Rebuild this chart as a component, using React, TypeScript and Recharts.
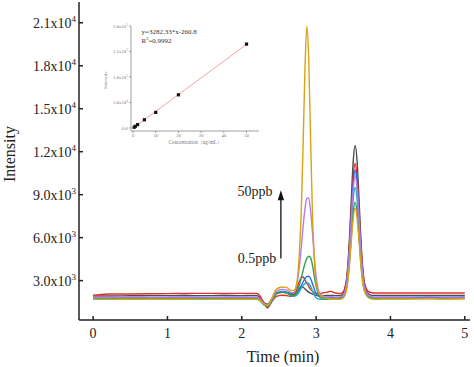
import React from "react";
import {
  LineChart,
  ComposedChart,
  Line,
  Scatter,
  XAxis,
  YAxis,
  ReferenceLine,
  ReferenceDot,
} from "recharts";

document.body.style.margin = "0";

// retention time (min)
const times = [
  0, 0.25, 0.5, 0.75, 1.0, 1.25, 1.5, 1.75, 2.0, 2.1,
  2.2, 2.25, 2.3, 2.35, 2.4, 2.45, 2.5, 2.55, 2.6, 2.65,
  2.7, 2.725, 2.75, 2.775, 2.8, 2.825, 2.85, 2.875, 2.9, 2.925,
  2.95, 2.975, 3.0, 3.05, 3.1, 3.15, 3.2, 3.25, 3.3,
  3.35, 3.4, 3.425, 3.45, 3.475, 3.5, 3.525, 3.55, 3.575, 3.6,
  3.625, 3.65, 3.7, 3.75, 3.8,
  4.0, 4.25, 4.5, 4.75, 5.0,
];

// chromatograms, 0.5ppb -> 50ppb
const dark = [
  1920, 1930, 1940, 1950, 1950, 1960, 1950, 1960, 1950, 1950,
  1950, 1800, 1450, 1350, 1700, 2100, 2200, 2220, 2200, 2100,
  2050, 2150, 2300, 2450, 2550, 2520, 2420, 2300, 2200, 2120,
  2050, 2000, 1980, 1960, 1950, 1960, 1970, 1950, 1950,
  2010, 2750, 3950, 6090, 8890, 11410, 12440, 11410, 8890, 6090,
  4000, 2800, 2100, 1970, 1960,
  1960, 1960, 1970, 1960, 1970,
];
const red = [
  1980, 2060, 2070, 2080, 2090, 2100, 2110, 2100, 2110, 2100,
  2100, 1900, 1400, 1100, 1500, 1850, 1950, 1980, 1960, 1900,
  1950, 2150, 2550, 2950, 3200, 3250, 3050, 2800, 2600, 2400,
  2250, 2150, 2100, 2100, 2150, 2200, 2250, 2150, 2100,
  2150, 2790, 3830, 5690, 8110, 10290, 11180, 10290, 8110, 5690,
  3850, 2850, 2250, 2150, 2130,
  2130, 2130, 2140, 2130, 2140,
];
const blue = [
  1780, 1790, 1800, 1800, 1800, 1810, 1800, 1810, 1800, 1800,
  1800, 1650, 1350, 1250, 1600, 2050, 2200, 2230, 2200, 2050,
  1950, 2000, 2150, 2400, 2650, 2900, 3150, 3280, 3300, 3150,
  2800, 2400, 2100, 1850, 1800, 1810, 1830, 1800, 1800,
  1850, 2480, 3500, 5320, 7690, 9830, 10700, 9830, 7690, 5320,
  3550, 2550, 1950, 1820, 1800,
  1800, 1800, 1810, 1800, 1810,
];
const cyan = [
  1730, 1740, 1750, 1750, 1750, 1760, 1750, 1750, 1760, 1750,
  1750, 1600, 1300, 1220, 1550, 2000, 2150, 2180, 2150, 2000,
  1900, 1950, 2050, 2250, 2450, 2650, 2800, 2850, 2800, 2600,
  2300, 2000, 1800, 1700, 1720, 1740, 1760, 1750, 1750,
  1800, 2340, 3230, 4810, 6880, 8740, 9500, 8740, 6880, 4810,
  3250, 2400, 1900, 1770, 1750,
  1750, 1760, 1760, 1750, 1760,
];
const green = [
  1700, 1710, 1720, 1720, 1720, 1730, 1720, 1720, 1730, 1720,
  1720, 1580, 1300, 1230, 1550, 2000, 2150, 2180, 2150, 2000,
  1950, 2050, 2300, 2700, 3200, 3700, 4200, 4550, 4700, 4600,
  4100, 3300, 2600, 1900, 1720, 1700, 1720, 1720, 1720,
  1760, 2230, 3010, 4390, 6190, 7820, 8480, 7820, 6190, 4390,
  3030, 2300, 1850, 1740, 1730,
  1740, 1740, 1750, 1740, 1750,
];
const purple = [
  1830, 1840, 1850, 1850, 1850, 1860, 1850, 1850, 1860, 1850,
  1850, 1700, 1400, 1300, 1650, 2150, 2350, 2380, 2350, 2200,
  2150, 2400, 3000, 4000, 5300, 6800, 8000, 8750, 8750, 7900,
  6400, 4700, 3300, 2100, 1900, 1860, 1870, 1850, 1850,
  1900, 2490, 3460, 5190, 7440, 9470, 10300, 9470, 7440, 5190,
  3500, 2550, 2000, 1870, 1850,
  1860, 1860, 1870, 1860, 1870,
];
const yellow = [
  1690, 1690, 1700, 1700, 1700, 1700, 1710, 1700, 1700, 1700,
  1700, 1600, 1350, 1280, 1700, 2300, 2500, 2550, 2530, 2350,
  2300, 2500, 3200, 5000, 7800, 12500, 17800, 20760, 18500, 13000,
  7800, 4500, 2800, 2000, 1800, 1750, 1720, 1700, 1700,
  1740, 2180, 2910, 4200, 5900, 7420, 8040, 7420, 5900, 4200,
  2930, 2250, 1820, 1720, 1710,
  1720, 1720, 1730, 1720, 1730,
];

const seriesList = [
  { key: "s05", values: dark, color: "#4d4d4d" },
  { key: "s1", values: red, color: "#e0302a" },
  { key: "s2", values: blue, color: "#2470e0" },
  { key: "s5", values: cyan, color: "#22a9c6" },
  { key: "s10", values: green, color: "#2ca152" },
  { key: "s20", values: purple, color: "#b37ce9" },
  { key: "s50", values: yellow, color: "#d8a315" },
];

const xTicks = [0, 1, 2, 3, 4, 5];
const yTicks = [3000, 6000, 9000, 12000, 15000, 18000, 21000];

// calibration inset
const conc = [0.5, 1, 2, 5, 10, 20, 50];
const peakArea = [1300, 3200, 6500, 16000, 30500, 65000, 164500];
const fitX = [0, 50];
const fitY = [-261, 163856];
const insetXTicks = [0, 10, 20, 30, 40, 50];
const insetYTicks = [0, 50000, 100000, 150000, 200000];

const rows = times.map((t, i) => {
  const r: any = { t };
  seriesList.forEach((s) => (r[s.key] = s.values[i]));
  return r;
});
const calPoints = conc.map((x, i) => ({ x, y: peakArea[i] }));
const fitPoints = fitX.map((x, i) => ({ x, y: fitY[i] }));

const serif = "'Liberation Serif', 'Times New Roman', serif";

const sciParts = (v: number) => {
  if (v === 0) return ["0.0", null];
  const e = Math.floor(Math.log10(v) + 1e-9);
  return [(v / Math.pow(10, e)).toFixed(1), e];
};

const MainYTick = ({ x, y, payload }: any) => {
  const [m, e] = sciParts(payload.value);
  return (
    <text x={x} y={y} dy={5} textAnchor="end" fontFamily={serif} fontSize={14} fill="#222">
      {m}x10
      <tspan dy={-6} fontSize={9}>{e}</tspan>
    </text>
  );
};

const InsetYTick = ({ x, y, payload }: any) => {
  const [m, e] = sciParts(payload.value);
  return (
    <text x={x} y={y} dy={1.6} textAnchor="end" fontFamily={serif} fontSize={4.6} fill="#777">
      {m}
      {e !== null && (
        <>
          x10<tspan dy={-1.8} fontSize={3}>{e}</tspan>
        </>
      )}
    </text>
  );
};

const ArrowHead = ({ cx, cy }: any) => (
  <path d={`M${cx},${cy} L${cx - 3.2},${cy + 10} L${cx + 3.2},${cy + 10} Z`} fill="#111" />
);

const TextMark = (label: string) => ({ cx, cy }: any) => (
  <text x={cx} y={cy} dy={5} textAnchor="middle" fontFamily={serif} fontSize={14} fill="#222">
    {label}
  </text>
);

const Square = ({ cx, cy }: any) => (
  <rect x={cx - 1.6} y={cy - 1.6} width={3.2} height={3.2} fill="#111" />
);

export default function App() {
  return (
    <div style={{ position: "relative", width: 474, height: 367, background: "#fff" }}>
      <LineChart width={474} height={367} data={rows} margin={{ top: 2, right: 4, left: 0, bottom: 0 }}>
        <XAxis
          dataKey="t"
          type="number"
          domain={[-0.19, 5.07]}
          ticks={xTicks}
          allowDataOverflow
          height={47}
          tickSize={-4}
          tickMargin={12}
          stroke="#222"
          strokeWidth={1.5}
          tick={{ fill: "#222", fontFamily: serif, fontSize: 14 }}
        />
        <XAxis xAxisId="top" orientation="top" type="number" domain={[-0.19, 5.07]} height={0} tick={false} tickLine={false} stroke="#222" strokeWidth={1.5} />
        <YAxis
          type="number"
          domain={[250, 22450]}
          ticks={yTicks}
          allowDataOverflow
          width={79}
          tickSize={-4}
          tickMargin={7}
          stroke="#222"
          strokeWidth={1.5}
          tick={<MainYTick />}
        />
        <YAxis yAxisId="right" orientation="right" domain={[250, 22450]} width={0} tick={false} tickLine={false} stroke="#222" strokeWidth={1.5} />
        {seriesList.map((s) => (
          <Line
            key={s.key}
            type="monotone"
            dataKey={s.key}
            stroke={s.color}
            strokeWidth={1.4}
            dot={false}
            isAnimationActive={false}
          />
        ))}
        <ReferenceLine
          segment={[
            { x: 2.526, y: 4550 },
            { x: 2.526, y: 8700 },
          ]}
          stroke="#111"
          strokeWidth={1.3}
        />
        <ReferenceDot x={2.526} y={9300} r={0} shape={ArrowHead} />
        <ReferenceDot x={2.176} y={9230} r={0} shape={TextMark("50ppb")} />
        <ReferenceDot x={2.203} y={4560} r={0} shape={TextMark("0.5ppb")} />
      </LineChart>

      {/* axis titles */}
      <svg width={474} height={367} style={{ position: "absolute", left: 0, top: 0, pointerEvents: "none" }}>
        <text x={15} y={154} transform="rotate(-90, 15, 154)" textAnchor="middle" fontFamily={serif} fontSize={16} fill="#222">
          Intensity
        </text>
        <text x={283} y={362} textAnchor="middle" fontFamily={serif} fontSize={16} fill="#222">
          Time (min)
        </text>
      </svg>

      {/* calibration inset */}
      <div style={{ position: "absolute", left: 100, top: 15, width: 160, height: 132 }}>
        <ComposedChart width={160} height={132} margin={{ top: 11, right: 1, left: 0, bottom: 0 }}>
          <XAxis
            dataKey="x"
            type="number"
            domain={[-0.9, 55.5]}
            ticks={insetXTicks}
            allowDataOverflow
            height={16}
            tickSize={2}
            tickMargin={1}
            stroke="#888"
            strokeWidth={0.8}
            tick={{ fill: "#777", fontFamily: serif, fontSize: 4.6 }}
          />
          <YAxis
            type="number"
            domain={[-6000, 200000]}
            ticks={insetYTicks}
            allowDataOverflow
            width={31}
            tickSize={2}
            tickMargin={1.5}
            stroke="#888"
            strokeWidth={0.8}
            tick={<InsetYTick />}
          />
          <Line
            data={fitPoints}
            dataKey="y"
            type="linear"
            stroke="#f08a8a"
            strokeWidth={0.8}
            dot={false}
            isAnimationActive={false}
          />
          <Scatter data={calPoints} dataKey="y" shape={Square} isAnimationActive={false} />
        </ComposedChart>
        <svg width={160} height={132} style={{ position: "absolute", left: 0, top: 0, pointerEvents: "none" }}>
          <text x={7} y={65} transform="rotate(-90, 7, 65)" textAnchor="middle" fontFamily={serif} fontSize={5} fill="#777">
            Intensity
          </text>
          <text x={95} y={128.5} textAnchor="middle" fontFamily={serif} fontSize={5.2} fill="#777">
            Concentration（ng/mL）
          </text>
          <text x={41.5} y={18.5} fontFamily={serif} fontSize={7} fill="#333">
            y=3282.33*x-260.8
          </text>
          <text x={41.5} y={28} fontFamily={serif} fontSize={7} fill="#333">
            R<tspan dy={-3} fontSize={4.5}>2</tspan>
            <tspan dy={3}>=0.9992</tspan>
          </text>
        </svg>
      </div>
    </div>
  );
}
